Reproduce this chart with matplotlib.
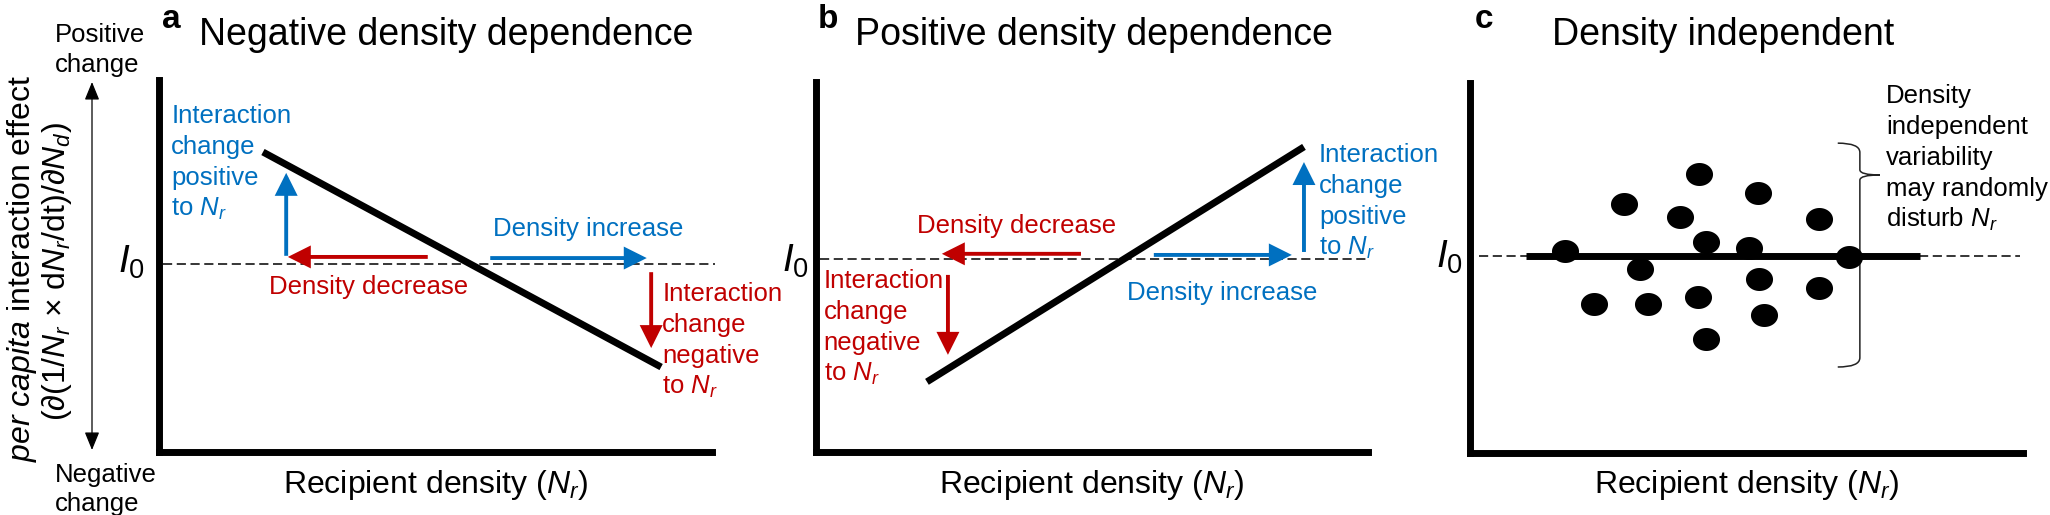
import matplotlib
matplotlib.use('Agg')
import matplotlib.pyplot as plt
import matplotlib.transforms as mtransforms
from matplotlib.patches import FancyArrowPatch, PathPatch
from matplotlib.path import Path
import numpy as np

plt.rcParams['font.family'] = ['Liberation Sans', 'DejaVu Sans']
plt.rcParams['mathtext.fontset'] = 'custom'
plt.rcParams['mathtext.rm'] = 'Liberation Sans'
plt.rcParams['mathtext.it'] = 'Liberation Sans:italic'
plt.rcParams['mathtext.bf'] = 'Liberation Sans:bold'

BLUE = '#0070C0'
RED = '#C00000'

# ---------------- data ----------------
letters = ['a', 'b', 'c']
titles = ['Negative density dependence', 'Positive density dependence', 'Density independent']
xlabel = 'Recipient density ($N_r$)'
I0_label = '$I_0$'

pos_lines = ['Interaction', 'change', 'positive', 'to $N_r$']
neg_lines = ['Interaction', 'change', 'negative', 'to $N_r$']
c_note = ['Density', 'independent', 'variability', 'may randomly', 'disturb $N_r$']

# panel a (x: density 0-10, y: interaction effect, I0 = 0)
a_line_x = [1.88, 9.08]
a_line_y = [3.01, -2.77]
a_up_x, a_up_y = [2.30, 2.30], [0.22, 2.45]
a_left_x, a_left_y = [4.86, 2.33], [0.19, 0.19]
a_right_x, a_right_y = [5.99, 8.82], [0.16, 0.16]
a_down_x, a_down_y = [8.90, 8.90], [-0.22, -2.26]

# panel b
b_line_x = [2.01, 8.84]
b_line_y = [-3.32, 3.03]
b_left_x, b_left_y = [4.80, 2.28], [0.14, 0.14]
b_down_x, b_down_y = [2.39, 2.39], [-0.43, -2.59]
b_right_x, b_right_y = [6.12, 8.62], [0.11, 0.11]
b_up_x, b_up_y = [8.84, 8.84], [0.19, 2.62]

# panel c
c_line_x = [1.01, 8.14]
c_line_y = [0.0, 0.0]
c_dot_x = [1.72, 2.78, 4.14, 3.80, 5.21, 6.31, 4.27, 5.05, 6.85,
           3.07, 5.23, 6.31, 2.24, 3.22, 4.12, 5.32, 4.27]
c_dot_y = [0.14, 1.41, 2.22, 1.05, 1.70, 1.00, 0.38, 0.22, -0.03,
           -0.35, -0.62, -0.86, -1.30, -1.30, -1.11, -1.59, -2.24]

# ---------------- layout ----------------
W, H = 2050, 515
fig = plt.figure(figsize=(W / 100, H / 100), dpi=100)


def fx(px):
    return px / W


def fy(py):
    return 1 - py / H


# axes boxes in pixels: left, right, top, bottom, I0 pixel row
boxes = [(159, 712, 80, 452, 264), (816, 1368, 82, 452, 259), (1470, 2023, 83, 453, 256)]
axes = []
for (l, r, t, b, iy) in boxes:
    ax = fig.add_axes([fx(l), fy(b), (r - l) / W, (b - t) / H])
    ax.set_xlim(0, 10)
    ax.set_ylim(-(b - iy) / (b - t) * 10, (iy - t) / (b - t) * 10)
    for s in ['top', 'right']:
        ax.spines[s].set_visible(False)
    for s in ['left', 'bottom']:
        ax.spines[s].set_linewidth(5)
        ax.spines[s].set_color('black')
        ax.spines[s].set_capstyle('projecting')
    ax.set_xticks([])
    ax.set_yticks([])
    ax.patch.set_alpha(0)
    axes.append(ax)

FS = 18.5
SP = 31


def stacked(ax, x, y, lines, color, fs=FS, spacing=SP):
    for i, s in enumerate(lines):
        tr = mtransforms.offset_copy(ax.transData, fig=fig, x=0,
                                     y=-(i * spacing + 9), units='dots')
        ax.text(x, y, s, transform=tr, color=color, fontsize=fs,
                ha='left', va='baseline', clip_on=False)


def arrow(ax, xs, ys, color):
    p = FancyArrowPatch((xs[0], ys[0]), (xs[1], ys[1]),
                        arrowstyle='-|>,head_length=12,head_width=6',
                        mutation_scale=1, lw=2.8, color=color,
                        shrinkA=0, shrinkB=0, joinstyle='miter',
                        capstyle='butt', clip_on=False)
    ax.add_patch(p)


def dashed(ax, x0, x1):
    ax.plot([x0, x1], [0, 0], color='black', lw=1.1, ls=(0, (6, 3)),
            clip_on=False, zorder=1)


def i0(ax, dx, dy):
    tr = mtransforms.offset_copy(ax.transData, fig=fig, x=dx, y=-dy, units='dots')
    ax.text(0, 0, I0_label, transform=tr, fontsize=28, ha='right',
            va='baseline', clip_on=False)


# ---- panel a ----
ax = axes[0]
dashed(ax, 0.07, 10.05)
ax.plot(a_line_x, a_line_y, color='black', lw=5, solid_capstyle='butt', zorder=3)
arrow(ax, a_up_x, a_up_y, BLUE)
arrow(ax, a_left_x, a_left_y, RED)
arrow(ax, a_right_x, a_right_y, BLUE)
arrow(ax, a_down_x, a_down_y, RED)
stacked(ax, 0.22, 4.03, pos_lines, BLUE)
stacked(ax, 6.04, 0.99, ['Density increase'], BLUE)
stacked(ax, 1.99, -0.56, ['Density decrease'], RED)
stacked(ax, 9.10, -0.75, neg_lines, RED)
i0(ax, -14, 9)

# ---- panel b ----
ax = axes[1]
dashed(ax, 0.07, 9.98)
ax.plot(b_line_x, b_line_y, color='black', lw=5, solid_capstyle='butt', zorder=3)
arrow(ax, b_left_x, b_left_y, RED)
arrow(ax, b_down_x, b_down_y, RED)
arrow(ax, b_right_x, b_right_y, BLUE)
arrow(ax, b_up_x, b_up_y, BLUE)
stacked(ax, 9.11, 2.86, pos_lines, BLUE)
stacked(ax, 0.14, -0.54, neg_lines, RED)
stacked(ax, 1.83, 0.95, ['Density decrease'], RED)
stacked(ax, 5.63, -0.86, ['Density increase'], BLUE)
i0(ax, -7, 13)

# ---- panel c ----
ax = axes[2]
dashed(ax, 0.16, 9.95)
ax.plot(c_line_x, c_line_y, color='black', lw=5, solid_capstyle='butt', zorder=3)
ell = Path(np.column_stack([np.cos(np.linspace(0, 2 * np.pi, 60)),
                            0.85 * np.sin(np.linspace(0, 2 * np.pi, 60))]))
ax.scatter(c_dot_x, c_dot_y, marker=ell, s=380, color='black', zorder=4,
           clip_on=False, linewidths=0)
x0, xv, xt = 6.65, 7.05, 7.41
yt, yb, ym = 3.05, -3.00, 2.19
verts = [(x0, yt), (xv, yt), (xv, yt - 0.25), (xv, ym + 0.14),
         (xv, ym), (xt, ym), (xv, ym), (xv, ym - 0.14),
         (xv, yb + 0.25), (xv, yb), (x0, yb)]
codes = [Path.MOVETO, Path.CURVE3, Path.CURVE3, Path.LINETO,
         Path.CURVE3, Path.CURVE3, Path.CURVE3, Path.CURVE3,
         Path.LINETO, Path.CURVE3, Path.CURVE3]
ax.add_patch(PathPatch(Path(verts, codes), fill=False, lw=1.1,
                       edgecolor='#222222', clip_on=False))
stacked(ax, 7.52, 4.38, c_note, 'black')
i0(ax, -7, 12)

# ---- titles and x labels ----
letter_x = [162, 818, 1475]
title_x = [199, 855, 1552]
for i, ax in enumerate(axes):
    fig.text(fx(letter_x[i]), fy(28), letters[i], fontsize=24,
             fontweight='bold', ha='left', va='baseline')
    fig.text(fx(title_x[i]), fy(45), titles[i], fontsize=27,
             ha='left', va='baseline')
    l, r = boxes[i][0], boxes[i][1]
    fig.text(fx((l + r) / 2), fy(493), xlabel, fontsize=23,
             ha='center', va='baseline')

# ---- shared y-axis description ----
fig.text(fx(22), fy(269), '$per\\ capita$ interaction effect', rotation=90,
         fontsize=23, ha='center', va='center')
fig.text(fx(57), fy(271), '(\u2202(1/$N_r$ \u00d7 d$N_r$/dt)/\u2202$N_d$)',
         rotation=90, fontsize=23, ha='center', va='center')
dbl = FancyArrowPatch((fx(92), fy(450)), (fx(92), fy(82)),
                      arrowstyle='<|-|>,head_length=11,head_width=4.5',
                      mutation_scale=1, lw=0.9, color='black',
                      shrinkA=0, shrinkB=0, transform=fig.transFigure)
fig.add_artist(dbl)
for s, yb_ in [('Positive', 42), ('change', 72), ('Negative', 482), ('change', 511)]:
    fig.text(fx(55), fy(yb_), s, fontsize=18.5, ha='left', va='baseline')

fig.savefig('out.png', dpi=100)
